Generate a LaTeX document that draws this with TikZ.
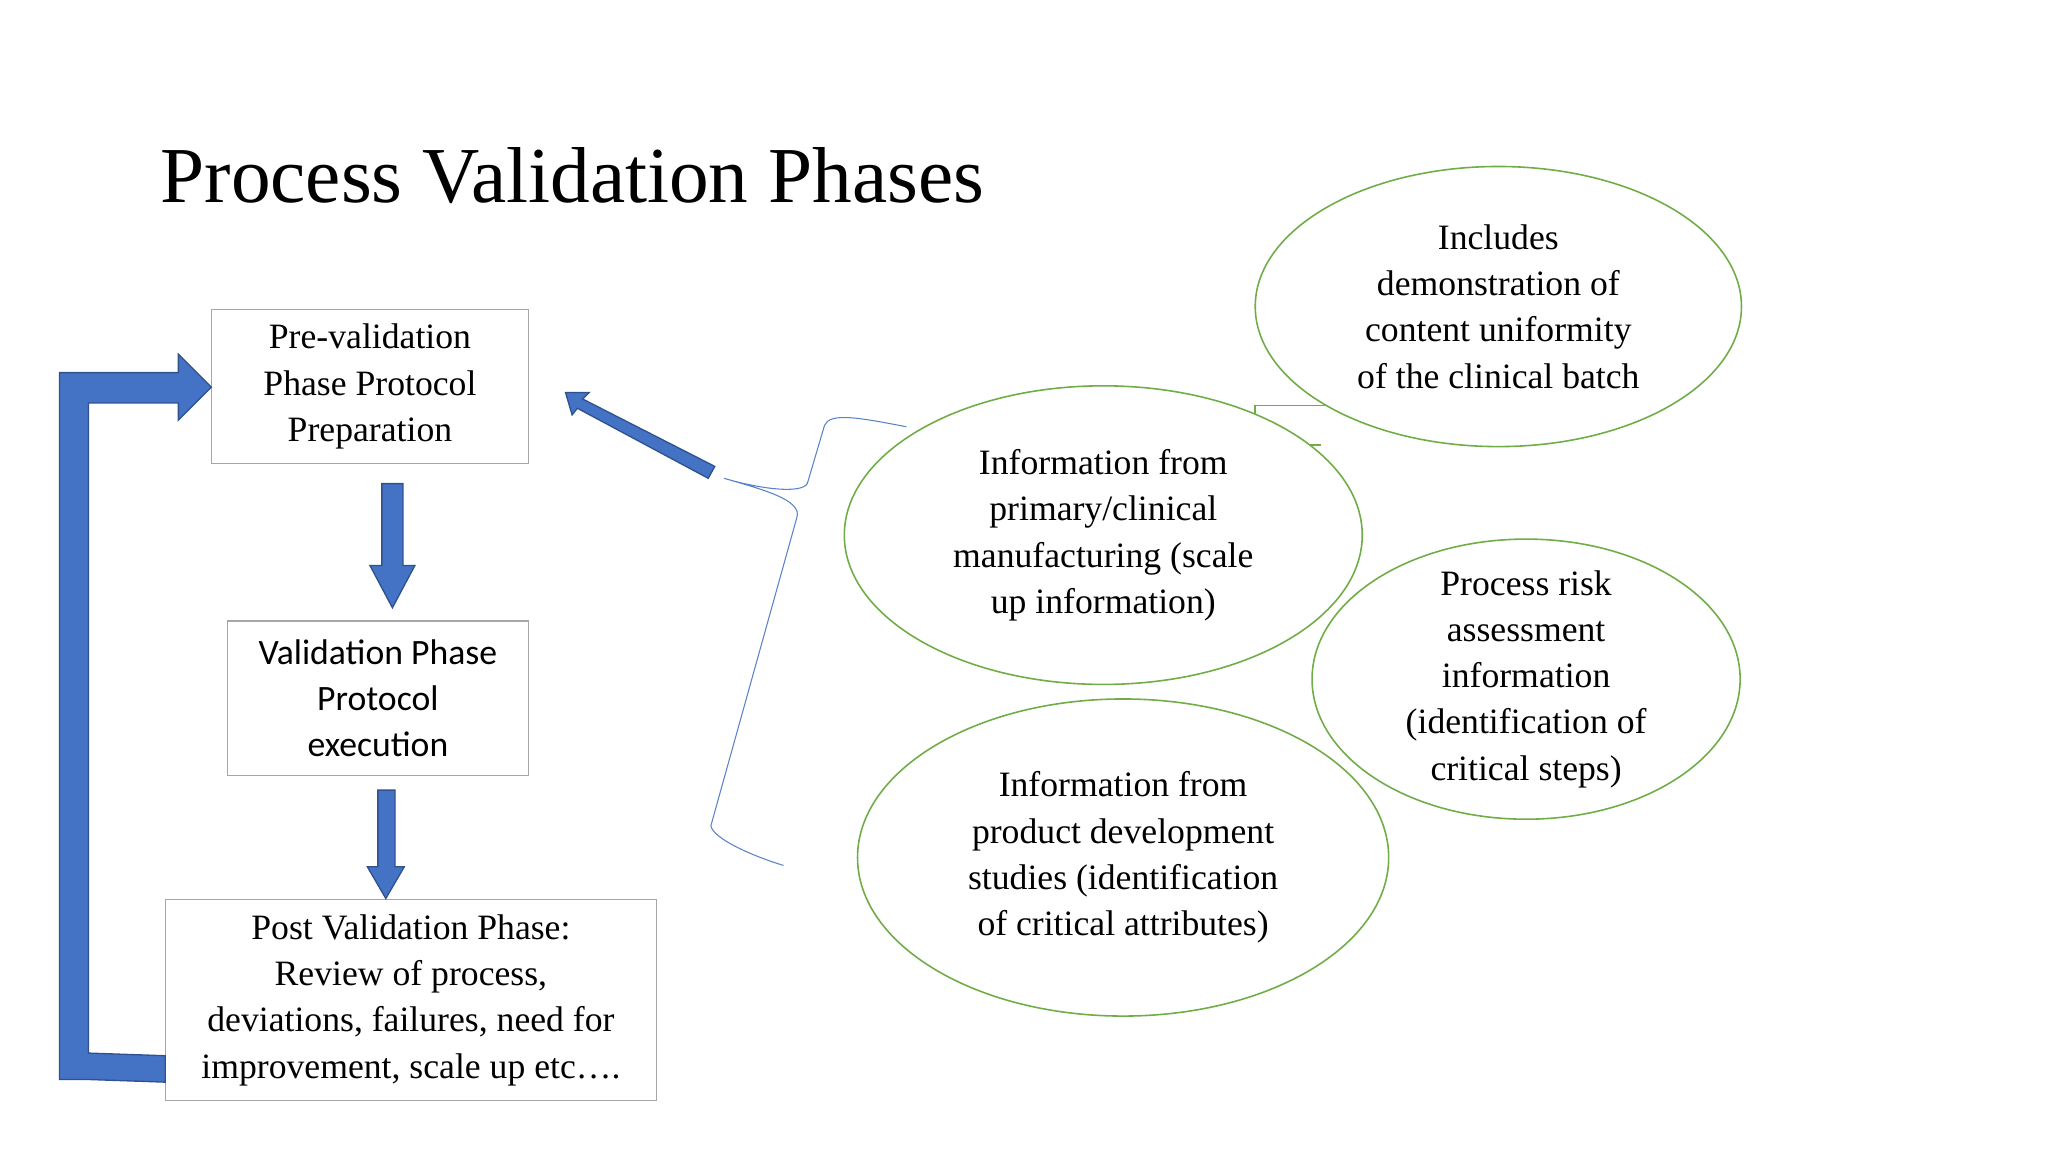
\documentclass[tikz,border=0pt]{standalone}
\usepackage{fontspec}
\usetikzlibrary{shapes.geometric}
\setmainfont{Liberation Serif}
\newfontfamily\calfont{Carlito}
\begin{document}
\begin{tikzpicture}[x=1pt,y=-1pt,
 box/.style={draw=black!35,line width=0.8pt,fill=white,align=center,font=\fontsize{27}{35}\selectfont},
 ell/.style={line width=1.2pt,fill=white,ellipse},
 etext/.style={align=center,font=\fontsize{27}{35}\selectfont},
 barrow/.style={fill={rgb,255:red,68;green,114;blue,196},draw={rgb,255:red,47;green,82;blue,143},line width=1pt}]
\definecolor{eg}{RGB}{112,173,71}
\definecolor{br}{RGB}{90,130,200}
\useasboundingbox (0,0) rectangle (1550,872);
\node[anchor=base west,font=\fontsize{60}{70}\selectfont] (title) at (118,153) {Process Validation Phases};
% boxes
\node[box,minimum width=240,minimum height=117] (b1) at (280,292.5) {Pre-validation\\Phase Protocol\\Preparation};
\node[box,minimum width=228,minimum height=117,font=\calfont\fontsize{27}{35}\selectfont] (b2) at (286,528.5) {Validation Phase\\Protocol\\execution};
\node[box,minimum width=372,minimum height=152] (b3) at (311,757) {Post Validation Phase:\\Review of process,\\deviations, failures, need for\\improvement, scale up etc\dots.};
% down arrows
\draw[barrow] (289,366)--(305,366)--(305,428)--(314,428)--(297,460)--(280,428)--(289,428)--cycle;
\draw[barrow] (286,598)--(299,598)--(299,656)--(306,656)--(292,680)--(278,656)--(286,656)--cycle;
% loop arrow
\draw[barrow] (125,799)--(125,819)--(67,817)--(45,817)--(45,282)--(135,282)--(135,268)--(160,293)--(135,318)--(135,305)--(67,305)--(67,797)--cycle;
% diagonal arrow
\draw[barrow] (541,353)--(536,362)--(437,309)--(433,314)--(428,297)--(446,297)--(441,302)--cycle;
% ellipses
\draw[draw=eg,line width=1.2pt,fill=white] (1005,307) -- (950,307) -- (950,337) -- (1000,337);
\node[ell,draw=eg,minimum width=368,minimum height=212,inner sep=0] (e2) at (1134,232) {};
\draw[draw=white,line width=2pt] (1003,309)--(1003,335);
\node[ell,draw=eg,minimum width=392,minimum height=226,inner sep=0] (e1) at (835,405) {};
\node[ell,draw=eg,minimum width=324,minimum height=212,inner sep=0] (e3) at (1155,514) {};
\node[ell,draw=eg,minimum width=402,minimum height=240,inner sep=0] (e4) at (850,649) {};
\node[etext] at (e2) {Includes\\demonstration of\\content uniformity\\of the clinical batch};
\node[etext] at (e1) {Information from\\primary/clinical\\manufacturing (scale\\up information)};
\node[etext] at (e3) {Process risk\\assessment\\information\\(identification of\\critical steps)};
\node[etext] at (e4) {Information from\\product development\\studies (identification\\of critical attributes)};
% brace
\draw[br,line width=0.8pt] (686,323) .. controls (650,316) and (628,312) .. (624,322) -- (611,366) .. controls (606,374) and (575,370) .. (548,362)
  .. controls (575,370) and (608,378) .. (603,392) -- (538,625) .. controls (540,635) and (570,648) .. (593,655);
\end{tikzpicture}
\end{document}
